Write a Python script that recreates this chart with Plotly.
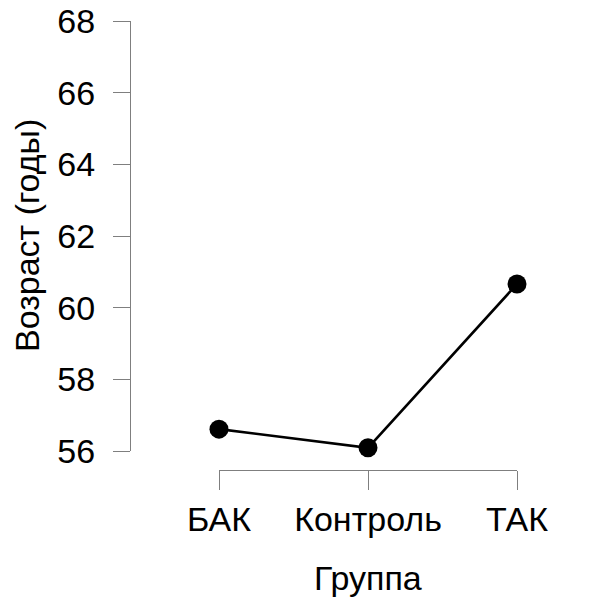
import plotly.graph_objects as go

groups = ["БАК", "Контроль", "ТАК"]
age = [56.61, 56.09, 60.66]
y_ticks = [56, 58, 60, 62, 64, 66, 68]

W = H = 606
font = dict(family="Liberation Sans, Arial, sans-serif", size=34, color="black")

# plot area in pixels (R style: axes sit outside the data region)
x0, x1 = 219, 517
y_top, y_bot = 21, 451

fig = go.Figure()
fig.add_trace(go.Scatter(
    x=list(range(len(groups))), y=age, mode="lines+markers",
    line=dict(color="black", width=2.6),
    marker=dict(color="black", size=19),
    cliponaxis=False, showlegend=False,
))

fig.update_layout(
    width=W, height=H,
    margin=dict(l=0, r=0, t=0, b=0),
    paper_bgcolor="white", plot_bgcolor="white",
    font=font,
    xaxis=dict(
        domain=[x0 / W, x1 / W], range=[0, len(groups) - 1],
        anchor="free", position=1 - 470 / H, automargin=False,
        tickmode="array", tickvals=list(range(len(groups))), ticktext=groups,
        showline=True, linecolor="#7f7f7f", linewidth=1,
        ticks="outside", ticklen=19, tickcolor="#7f7f7f", tickwidth=1,
        ticklabeloverflow="allow",
        showgrid=False, zeroline=False, tickfont=font,
    ),
    yaxis=dict(
        domain=[1 - y_bot / H, 1 - y_top / H], range=[56, 68],
        anchor="free", position=130 / W, automargin=False,
        tickmode="array", tickvals=y_ticks,
        showline=True, linecolor="#7f7f7f", linewidth=1,
        ticks="outside", ticklen=17, tickcolor="#7f7f7f", tickwidth=1,
        ticklabelstandoff=11, ticklabeloverflow="allow",
        showgrid=False, zeroline=False, tickfont=font,
    ),
    annotations=[
        dict(text="Группа", x=368 / W, y=1 - 578 / H, xref="paper", yref="paper",
             showarrow=False, font=font, xanchor="center", yanchor="middle"),
        dict(text="Возраст (годы)", x=27 / W, y=1 - 236 / H, xref="paper", yref="paper",
             showarrow=False, font=font, textangle=-90, xanchor="center", yanchor="middle"),
    ],
)

# drop the default page margin so the figure fills the window
fig.write_html("out.html", config={"displayModeBar": False},
               post_script="document.body.style.margin = '0';")
